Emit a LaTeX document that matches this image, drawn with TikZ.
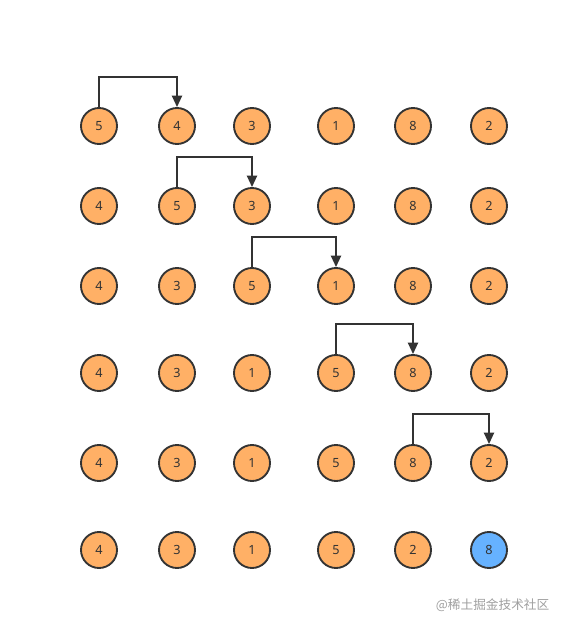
\documentclass[tikz,border=0pt]{standalone}
\usepackage{fontspec}
\setmainfont{Noto Sans}
\newfontfamily\cjkfont{Noto Sans CJK SC}
\usepackage{tikz}
\usetikzlibrary{arrows.meta}
\definecolor{ballorange}{HTML}{FFB066}
\definecolor{ballblue}{HTML}{66B2FF}
\definecolor{edgegray}{HTML}{333333}
\tikzset{
ball/.style={circle,draw=edgegray,line width=1.4pt,fill=ballorange,minimum size=27pt,inner sep=0pt,text=edgegray,font=\fontsize{9.5}{10}\selectfont},
maxball/.style={ball,fill=ballblue},
swap/.style={draw=edgegray,line width=1.4pt,-{Triangle[length=8.5pt,width=7.5pt]}}
}

\begin{document}
\begin{tikzpicture}[x=0.75pt,y=-0.75pt]
\useasboundingbox (0,0) rectangle (570,630);

% rows of values
\foreach \r/\y/\vals in {1/126/{5,4,3,1,8,2},2/206/{4,5,3,1,8,2},3/286/{4,3,5,1,8,2},4/373/{4,3,1,5,8,2},5/463/{4,3,1,5,8,2},6/550/{4,3,1,5,2}} {
\foreach \v [count=\c] in \vals {
\pgfmathsetmacro\x{{99,177,252,336,413,489}[\c-1]}
\node[ball] (n\r\c) at (\x,\y) {\v};
}
}
\node[maxball] (n66) at (489,550) {8};

% compare and swap
\foreach \r/\a/\b in {1/1/2,2/2/3,3/3/4,4/4/5,5/5/6} {
\draw[swap] (n\r\a.north) -- ++(0,-30) -| (n\r\b.north);
}

\node[text=gray!75,font=\cjkfont\fontsize{9.5}{10}\selectfont,anchor=east] (mark) at (554,605) {@稀土掘金技术社区};

\end{tikzpicture}
\end{document}
